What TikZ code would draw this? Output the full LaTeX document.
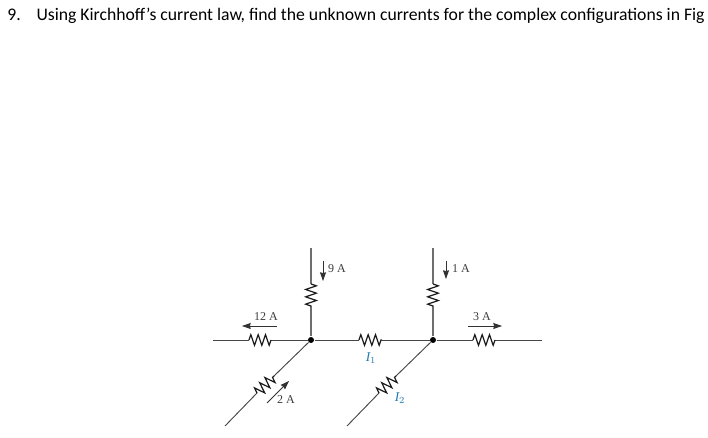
\documentclass[tikz,border=0pt]{standalone}
\usepackage{fontspec}
\setmainfont{Liberation Serif}
\newfontfamily\titlefont{Carlito}
\usetikzlibrary{decorations.pathmorphing,arrows.meta}

\tikzset{every picture/.style={line width=0.75pt}}
\tikzset{
  wire/.style={color={rgb, 255:red, 70; green, 70; blue, 70 }, line width=0.7pt},
  stub/.style={color={rgb, 255:red, 110; green, 110; blue, 110 }, line width=1.2pt},
  res/.style={color={rgb, 255:red, 25; green, 25; blue, 25 }, line width=0.9pt, line join=miter, decorate, decoration={zigzag, amplitude=4pt, segment length=5.5pt}},
  flow/.style={color={rgb, 255:red, 50; green, 50; blue, 50 }, line width=0.6pt, -{Stealth[length=6.5pt,width=4.5pt,inset=0.5pt]}},
  junction/.style={circle, fill=black, inner sep=0pt, minimum size=4.5pt},
  val/.style={font=\fontsize{9}{10}\selectfont, text={rgb, 255:red, 60; green, 60; blue, 60 }, inner sep=0pt},
  cur/.style={font=\fontsize{10}{11}\selectfont\itshape, text={rgb, 255:red, 30; green, 120; blue, 175 }, inner sep=0pt},
  head/.style={font=\titlefont\fontsize{13.26}{15}\selectfont, anchor=base west, inner sep=0pt}
}

\begin{document}
\begin{tikzpicture}[x=0.75pt,y=0.75pt,yscale=-1,xscale=1]
\path[use as bounding box] (0,0) rectangle (708,438);

% Text Node
\node [head] (num) at (7,21) {9.};
\node [head] (task) at (36,21) {Using Kirchhoff’s current law, find the unknown currents for the complex configurations in Fig};

% Junctions
\node [junction] (ja) at (311,340) {};
\node [junction] (jb) at (433,340) {};

% Wire ends
\coordinate (west) at (213,340);
\coordinate (east) at (542,340);
\coordinate (topa) at (311,248);
\coordinate (topb) at (433,248);
\coordinate (diaga) at (225,426);
\coordinate (diagb) at (347,426);

% Resistor ends
\coordinate (ra1) at (249,340);
\coordinate (ra2) at (271,340);
\coordinate (rb1) at (359,340);
\coordinate (rb2) at (382,340);
\coordinate (rc1) at (473,340);
\coordinate (rc2) at (495,340);
\coordinate (rd1) at (311,284);
\coordinate (rd2) at (311,307);
\coordinate (re1) at (433,284);
\coordinate (re2) at (433,307);
\coordinate (rf1) at (257,393);
\coordinate (rf2) at (274,376);
\coordinate (rg1) at (379,393);
\coordinate (rg2) at (396,376);

%Straight Lines
\draw [wire] (west) -- (ra1);
\draw [wire] (ra2) -- (ja);
\draw [wire] (ja) -- (rb1);
\draw [wire] (rb2) -- (jb);
\draw [wire] (jb) -- (rc1);
\draw [wire] (rc2) -- (east);
\draw [stub] (topa) -- (rd1);
\draw [stub] (rd2) -- (ja);
\draw [stub] (topb) -- (re1);
\draw [stub] (re2) -- (jb);
\draw [wire] (diaga) -- (rf1);
\draw [wire] (rf2) -- (ja);
\draw [wire] (diagb) -- (rg1);
\draw [wire] (rg2) -- (jb);

%Resistors
\draw [res] (ra1) -- (ra2);
\draw [res] (rb1) -- (rb2);
\draw [res] (rc1) -- (rc2);
\draw [res] (rd1) -- (rd2);
\draw [res] (re1) -- (re2);
\draw [res] (rf1) -- (rf2);
\draw [res] (rg1) -- (rg2);

% Arrow ends
\coordinate (fa1) at (323,261);
\coordinate (fa2) at (323,281);
\coordinate (fb1) at (277,326);
\coordinate (fb2) at (242,326);
\coordinate (fc1) at (267,403);
\coordinate (fc2) at (289,381);
\coordinate (fd1) at (446,261);
\coordinate (fd2) at (446,279);
\coordinate (fe1) at (468,326);
\coordinate (fe2) at (502,326);

\draw [flow] (fa1) -- (fa2);
\draw [flow] (fb1) -- (fb2);
\draw [flow] (fc1) -- (fc2);
\draw [flow] (fd1) -- (fd2);
\draw [flow] (fe1) -- (fe2);

% Text Node
\node [val] (nine) at (337,269) {9 A};
\node [val] (twelve) at (266,317) {12 A};
\node [val] (two) at (286,400) {2 A};
\node [val] (one) at (461,269) {1 A};
\node [val] (three) at (482,317) {3 A};
\node [cur] (ione) at (371,358) {I$_{1}$};
\node [cur] (itwo) at (400,398) {I$_{2}$};

\end{tikzpicture}
\end{document}
